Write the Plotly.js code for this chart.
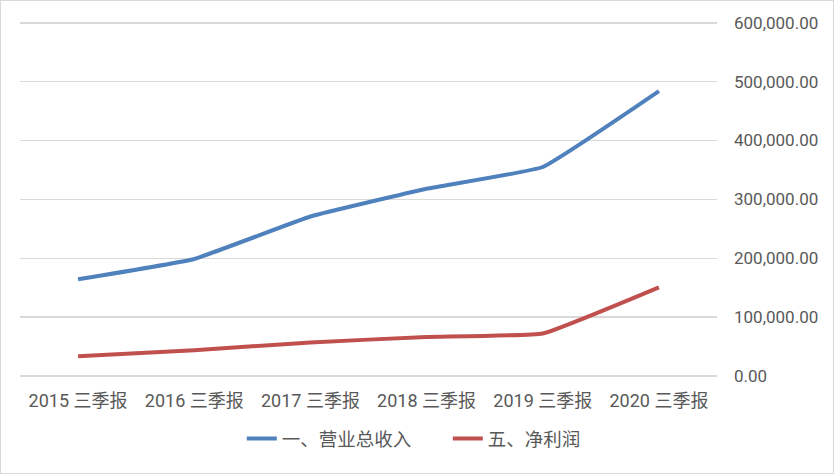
<!DOCTYPE html>
<html><head><meta charset="utf-8">
<script src="https://cdn.plot.ly/plotly-3.0.1.min.js"></script>
<style>html,body{margin:0;padding:0;background:#fff;}#wrap{width:832px;height:472px;border:1px solid #d9d9d9;}#chart{width:832px;height:472px;}</style>
</head><body><div id="wrap"><div id="chart"></div></div>
<script>
const categories = ["2015 三季报","2016 三季报","2017 三季报","2018 三季报","2019 三季报","2020 三季报"];
const revenue = [164200, 198800, 270900, 318000, 355000, 483800];
const netProfit = [33600, 43800, 56900, 66400, 72200, 150600];
const seriesNames = ["一、营业总收入","五、净利润"];
const font = "Roboto, 'Noto Sans CJK SC', sans-serif";
const traces = [
  {x: categories, y: revenue, name: seriesNames[0], type: 'scatter', mode: 'lines',
   line: {color: '#4f81bd', width: 4, shape: 'spline', smoothing: 0.3}},
  {x: categories, y: netProfit, name: seriesNames[1], type: 'scatter', mode: 'lines',
   line: {color: '#c0504d', width: 4, shape: 'spline', smoothing: 0.3}}
];
const layout = {
  width: 832, height: 472,
  margin: {l: 19, r: 116, t: 20, b: 97},
  paper_bgcolor: '#fff', plot_bgcolor: '#fff',
  font: {family: font, color: '#595959', size: 17},
  xaxis: {type: 'category', range: [-0.5, 5.5], showgrid: false, zeroline: false, showline: false,
    ticks: '', ticklabelstandoff: 12, automargin: false,
    tickfont: {size: 18, color: '#595959', family: font}},
  yaxis: {side: 'right', range: [0, 603000], tickvals: [0,100000,200000,300000,400000,500000,600000],
    tickformat: ',.2f', automargin: false,
    showgrid: true, gridcolor: '#d9d9d9', gridwidth: 1.5,
    zeroline: true, zerolinecolor: '#d9d9d9', zerolinewidth: 1.5, showline: false,
    ticks: '', ticklabelstandoff: 16, tickfont: {size: 17, color: '#595959', family: font}},
  showlegend: true,
  legend: {orientation: 'h', xref: 'container', x: 0.537, xanchor: 'center',
    yref: 'container', y: 0.072, yanchor: 'middle', entrywidth: 161, entrywidthmode: 'pixels',
    font: {size: 18.5, color: '#595959', family: font}, tracegroupgap: 0}
};
Plotly.newPlot('chart', traces, layout, {displayModeBar: false, staticPlot: true});
</script></body></html>
